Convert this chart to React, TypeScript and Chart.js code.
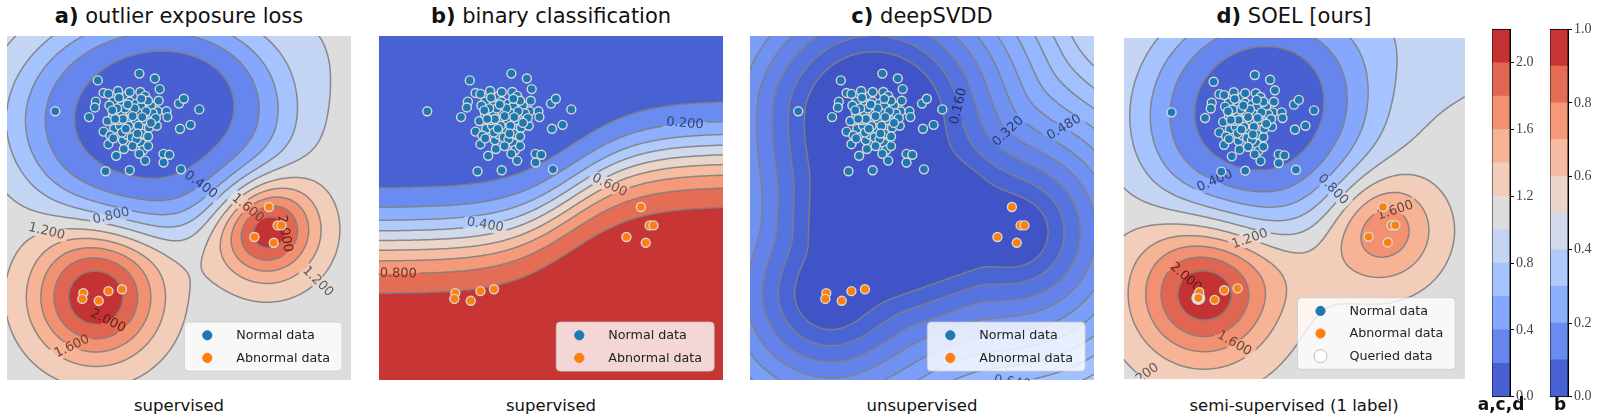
import React, { useEffect, useRef } from "react";
import { Chart, registerables } from "chart.js";
Chart.register(...registerables);

// ---------------- data (units = panel px / 10) ----------------
const normalX = [5.0, 9.4, 13.7, 15.3, 15.8, 10.0, 10.5, 11.5, 12.4, 13.8, 14.3, 9.2, 9.1, 8.5, 11.0, 11.9, 12.7, 13.4, 13.9, 14.9,
  15.7, 15.6, 16.5, 16.6, 17.8, 18.3, 19.9, 10.4, 11.0, 11.9, 12.8, 13.3, 14.2, 15.1, 14.7, 15.5, 10.0, 11.1, 11.7, 12.4,
  13.1, 13.9, 14.6, 17.9, 19.0, 10.5, 12.0, 12.4, 12.1, 13.9, 14.1, 11.3, 13.7, 14.3, 16.2, 16.8, 16.2, 10.2, 12.7, 18.0,
  11.6, 12.2, 12.9, 10.6, 11.4, 13.6, 11.6, 12.6, 13.6, 14.4, 10.7, 15.4, 13.2, 11.9, 14.6, 12.7, 10.9, 13.9, 14.9, 13.4,
  12.0, 13.0, 12.3, 13.5, 11.2, 14.0, 12.5, 11.0, 14.6, 13.0];
const normalY = [27.8, 31.0, 31.7, 31.2, 30.1, 29.7, 29.6, 29.9, 29.4, 29.8, 29.4, 28.8, 28.2, 27.2, 28.8, 28.4, 28.8, 28.6, 28.3, 28.4,
  28.9, 27.8, 27.8, 27.2, 28.6, 29.1, 28.0, 26.8, 27.4, 27.5, 27.7, 26.9, 26.9, 27.6, 26.1, 26.3, 25.7, 26.0, 26.3, 26.8,
  25.9, 25.5, 25.2, 26.0, 26.4, 24.4, 24.8, 25.4, 23.9, 24.5, 23.8, 23.2, 23.4, 22.7, 23.4, 23.3, 22.5, 21.6, 21.7, 21.8,
  29.2, 28.1, 25.1, 28.4, 28.1, 27.6, 26.9, 26.3, 26.3, 27.8, 25.3, 27.1, 28.1, 25.6, 28.9, 29.8, 27.9, 29.1, 26.6, 24.9,
  27.0, 27.3, 26.0, 25.5, 27.0, 27.2, 28.5, 25.0, 24.2, 24.2];
const abnormalX = [7.9, 7.8, 9.5, 10.5, 11.9, 27.1, 28.0, 28.4, 25.6, 27.6];
const abnormalY = [9.0, 8.4, 8.2, 9.2, 9.4, 17.9, 16.0, 16.0, 14.8, 14.2];
const queriedX = [7.8];
const queriedY = [8.4];

const panelLetters = ["a)", "b)", "c)", "d)"];
const panelNames = ["outlier exposure loss", "binary classification", "deepSVDD", "SOEL [ours]"];
const panelSubtitles = ["supervised", "supervised", "unsupervised", "semi-supervised (1 label)"];

// score-surface models (centres / spreads / amplitudes estimated from the contours)
const baseA = 1.08;
const bumpsA = [
  [14.8, 26.8, 14.1, 11.2, 4.0, -0.96],
  [24.0, 34.0, 12.0, 7.0, 2.0, -0.12],
  [9.2, 8.6, 6.6, 6.6, 2.2, 1.07],
  [26.9, 15.6, 5.1, 5.1, 2.0, 1.07],
];
const baseD = 1.1;
const bumpsD = [
  [13.6, 27.1, 12.1, 11.7, 3.0, -1.0],
  [26.0, 37.0, 16.0, 10.0, 2.0, -0.25],
  [8.4, 8.9, 7.1, 7.1, 2.0, 1.05],
  [27.1, 15.6, 5.5, 5.5, 2.0, 0.65],
  [18.5, 11.5, 7.0, 5.0, 2.0, 0.1],
];
// deepSVDD: discs around the three groups and the tapered links between them
const svddDiscs = [[12.8, 26.7, 6.5], [8.4, 9.0, 2.6], [27.3, 15.3, 2.4]];
const svddLinks = [[0, 1, 6.5, 2.6], [1, 2, 2.6, 2.3], [2, 0, 2.4, 2.6]];
const svddSmooth = 3.0;
const svddSlope = 0.048;
const bBoundary = [14.4, 9.0, 20, 7]; // base, rise, mid, width
const bGain = 0.403;

const labelsA = [[0.4, 19.1, 21.6], [0.8, 10.7, 16.6], [1.2, 4.4, 14.6], [1.6, 24.4, 18.4], [2.0, 28.9, 15.1], [1.2, 33.2, 9.1], [2.0, 10.2, 6.6], [1.6, 6.4, 2.8]];
const labelsB = [[0.2, 31.7, 25.9], [0.6, 24.0, 19.8], [0.4, 10.9, 16.6], [0.8, 2.0, 11.6]];
const labelsC = [[0.16, 22.6, 28.6], [0.32, 28.1, 27.1], [0.48, 32.6, 26.3], [0.64, 26.6, 3.9]];
const labelsD = [[0.4, 9.6, 20.8], [0.8, 21.2, 20.4], [1.6, 28.6, 18.3], [1.2, 13.2, 14.6], [2.0, 6.9, 10.1], [1.6, 11.7, 3.4], [1.2, 2.6, 1.0]];

const cbTicksACD = [0.0, 0.4, 0.8, 1.2, 1.6, 2.0];
const cbTicksB = [0.0, 0.2, 0.4, 0.6, 0.8, 1.0];

// ---------------- helpers ----------------
const COOLWARM = [[59,76,192],[68,90,204],[77,104,215],[87,117,225],[98,130,234],[108,142,241],[119,154,247],[130,165,251],[141,176,254],[152,185,255],[163,194,255],[174,201,253],[184,208,249],[194,213,244],[204,217,238],[213,219,230],[221,221,221],[229,216,209],[236,211,197],[241,204,185],[245,196,173],[247,187,160],[247,177,148],[247,166,135],[244,154,123],[241,141,111],[236,127,99],[229,112,88],[222,96,77],[213,80,66],[203,62,56],[192,40,47],[180,4,38]];
function coolwarm(t: number): number[] {
  t = Math.max(0, Math.min(1, t));
  const p = t * 32;
  const i = Math.floor(p);
  if (i >= 32) return COOLWARM[32];
  const f = p - i;
  const a = COOLWARM[i], b = COOLWARM[i + 1];
  return [a[0] + (b[0] - a[0]) * f, a[1] + (b[1] - a[1]) * f, a[2] + (b[2] - a[2]) * f];
}
const rgb = (c: number[], k = 1) => `rgb(${Math.round(c[0] * k)},${Math.round(c[1] * k)},${Math.round(c[2] * k)})`;

function bumpField(base: number, bumps: number[][]) {
  return (x: number, y: number) => {
    let v = base;
    for (const b of bumps) {
      const dx = (x - b[0]) / b[2], dy = (y - b[1]) / b[3];
      v += b[5] * Math.exp(-Math.pow(dx * dx + dy * dy, b[4] / 2));
    }
    return v;
  };
}
function smin(a: number, b: number, k: number) {
  const h = Math.max(k - Math.abs(a - b), 0) / k;
  return Math.min(a, b) - (h * h * k) / 4;
}
function svddDistance(x: number, y: number) {
  let D = 1e9;
  for (const c of svddDiscs) D = smin(D, Math.hypot(x - c[0], y - c[1]) - c[2], svddSmooth);
  for (const l of svddLinks) {
    const p = svddDiscs[l[0]], q = svddDiscs[l[1]];
    const ex = q[0] - p[0], ey = q[1] - p[1];
    let t = ((x - p[0]) * ex + (y - p[1]) * ey) / (ex * ex + ey * ey);
    t = Math.max(0, Math.min(1, t));
    const d = Math.hypot(x - p[0] - t * ex, y - p[1] - t * ey) - (l[2] + (l[3] - l[2]) * t);
    D = smin(D, d, svddSmooth);
  }
  // interior of the triangle spanned by the three groups
  let sgn = 0, inside = true;
  for (let i = 0; i < 3; i++) {
    const p = svddDiscs[i], q = svddDiscs[(i + 1) % 3];
    const s = Math.sign((q[0] - p[0]) * (y - p[1]) - (q[1] - p[1]) * (x - p[0]));
    if (sgn === 0) sgn = s;
    else if (s !== 0 && s !== sgn) inside = false;
  }
  if (inside) D = Math.min(D, -1);
  return D;
}
const fieldSvdd = (x: number, y: number) => Math.max(0, 0.08 + svddSlope * svddDistance(x, y));
const fieldBinary = (x: number, y: number) => {
  const y0 = bBoundary[0] + (bBoundary[1] / 2) * (1 + Math.tanh((x - bBoundary[2]) / bBoundary[3]));
  return 1 / (1 + Math.exp(-bGain * (y0 - y)));
};

interface Spec {
  field: (x: number, y: number) => number;
  step: number;
  nBands: number;
  norm: number;
  labels: number[][];
  queried: boolean;
}
const specs: Spec[] = [
  { field: bumpField(baseA, bumpsA), step: 0.2, nBands: 11, norm: 2.2, labels: labelsA, queried: false },
  { field: fieldBinary, step: 0.1, nBands: 10, norm: 1.0, labels: labelsB, queried: false },
  { field: fieldSvdd, step: 0.08, nBands: 11, norm: 2.2, labels: labelsC, queried: false },
  { field: bumpField(baseD, bumpsD), step: 0.2, nBands: 11, norm: 2.2, labels: labelsD, queried: true },
];

function snap(f: (x: number, y: number) => number, L: number, x0: number, y0: number) {
  let x = x0, y = y0;
  const h = 0.01;
  for (let it = 0; it < 40; it++) {
    const v = f(x, y) - L;
    if (Math.abs(v) < 1e-5) break;
    const gx = (f(x + h, y) - f(x - h, y)) / (2 * h);
    const gy = (f(x, y + h) - f(x, y - h)) / (2 * h);
    const g2 = gx * gx + gy * gy;
    if (g2 < 1e-12) break;
    let sx = (v * gx) / g2, sy = (v * gy) / g2;
    const m = Math.hypot(sx, sy);
    if (m > 0.5) { sx *= 0.5 / m; sy *= 0.5 / m; }
    x -= sx; y -= sy;
  }
  if (Math.hypot(x - x0, y - y0) > 4.5) return [x0, y0];
  return [x, y];
}

function makeContourPlugin(spec: Spec) {
  return {
    id: "contourField",
    beforeDatasetsDraw(chart: any) {
      const { ctx, chartArea: ca } = chart;
      const sx = chart.scales.x, sy = chart.scales.y;
      const W = Math.round(ca.right - ca.left), H = Math.round(ca.bottom - ca.top);
      const f = spec.field;
      const bandCols: number[][] = [];
      for (let b = 0; b < spec.nBands; b++) bandCols.push(coolwarm(((b + 0.5) * spec.step) / spec.norm));
      // filled bands
      const off = document.createElement("canvas");
      off.width = W; off.height = H;
      const octx = off.getContext("2d")!;
      const img = octx.createImageData(W, H);
      const xs: number[] = [], ys: number[] = [];
      for (let i = 0; i < W; i++) xs.push(sx.getValueForPixel(ca.left + i + 0.5));
      for (let j = 0; j < H; j++) ys.push(sy.getValueForPixel(ca.top + j + 0.5));
      for (let j = 0; j < H; j++) {
        for (let i = 0; i < W; i++) {
          const v = f(xs[i], ys[j]);
          let b = Math.floor(v / spec.step + 1e-9);
          if (b < 0) b = 0;
          if (b > spec.nBands - 1) b = spec.nBands - 1;
          const c = bandCols[b];
          const k = (j * W + i) * 4;
          img.data[k] = c[0]; img.data[k + 1] = c[1]; img.data[k + 2] = c[2]; img.data[k + 3] = 255;
        }
      }
      octx.putImageData(img, 0, 0);
      ctx.drawImage(off, ca.left, ca.top, W, H);

      // labels (positions snapped onto their level)
      ctx.font = '13px "DejaVu Sans"';
      const labs = spec.labels.map((l) => {
        const [x, y] = snap(f, l[0], l[1], l[2]);
        const h = 0.01;
        const gx = (f(x + h, y) - f(x - h, y)) / (2 * h);
        const gy = (f(x, y + h) - f(x, y - h)) / (2 * h);
        let ang = Math.atan2(gx, gy);
        if (ang > Math.PI / 2) ang -= Math.PI;
        if (ang < -Math.PI / 2) ang += Math.PI;
        const text = l[0].toFixed(3);
        const w = ctx.measureText(text).width;
        return { px: sx.getPixelForValue(x), py: sy.getPixelForValue(y), ang, text, w, level: l[0] };
      });

      // contour lines via marching squares
      const g = 2;
      const NX = Math.ceil(W / g), NY = Math.ceil(H / g);
      const gxp = (i: number) => ca.left + Math.min(i * g, W);
      const gyp = (j: number) => ca.top + Math.min(j * g, H);
      const vals = new Float64Array((NX + 1) * (NY + 1));
      for (let j = 0; j <= NY; j++)
        for (let i = 0; i <= NX; i++)
          vals[j * (NX + 1) + i] = f(sx.getValueForPixel(gxp(i)), sy.getValueForPixel(gyp(j)));
      ctx.save();
      ctx.beginPath();
      ctx.rect(ca.left, ca.top, W, H);
      for (const lb of labs) {
        ctx.save();
        ctx.translate(lb.px, lb.py);
        ctx.rotate(-lb.ang);
        ctx.rect(-lb.w / 2 - 3, -7, lb.w + 6, 14);
        ctx.restore();
      }
      ctx.clip("evenodd");
      ctx.beginPath();
      for (let k = 1; k < spec.nBands; k++) {
        const L = k * spec.step;
        for (let j = 0; j < NY; j++) {
          for (let i = 0; i < NX; i++) {
            const a = vals[j * (NX + 1) + i], b = vals[j * (NX + 1) + i + 1];
            const c = vals[(j + 1) * (NX + 1) + i + 1], d = vals[(j + 1) * (NX + 1) + i];
            const x0 = gxp(i), x1 = gxp(i + 1), y0 = gyp(j), y1 = gyp(j + 1);
            const pts: number[][] = [];
            if ((a - L) * (b - L) < 0) pts.push([x0 + ((L - a) / (b - a)) * (x1 - x0), y0]);
            if ((b - L) * (c - L) < 0) pts.push([x1, y0 + ((L - b) / (c - b)) * (y1 - y0)]);
            if ((d - L) * (c - L) < 0) pts.push([x0 + ((L - d) / (c - d)) * (x1 - x0), y1]);
            if ((a - L) * (d - L) < 0) pts.push([x0, y0 + ((L - a) / (d - a)) * (y1 - y0)]);
            if (pts.length === 2) {
              ctx.moveTo(pts[0][0], pts[0][1]); ctx.lineTo(pts[1][0], pts[1][1]);
            } else if (pts.length === 4) {
              const cen = (a + b + c + d) / 4;
              if ((cen - L) * (a - L) < 0) {
                ctx.moveTo(pts[0][0], pts[0][1]); ctx.lineTo(pts[3][0], pts[3][1]);
                ctx.moveTo(pts[1][0], pts[1][1]); ctx.lineTo(pts[2][0], pts[2][1]);
              } else {
                ctx.moveTo(pts[0][0], pts[0][1]); ctx.lineTo(pts[1][0], pts[1][1]);
                ctx.moveTo(pts[2][0], pts[2][1]); ctx.lineTo(pts[3][0], pts[3][1]);
              }
            }
          }
        }
      }
      ctx.strokeStyle = "rgba(128,128,128,0.9)";
      ctx.lineWidth = 1.5;
      ctx.lineCap = "round";
      ctx.stroke();
      ctx.restore();

      // label text
      ctx.save();
      ctx.beginPath();
      ctx.rect(ca.left, ca.top, W, H);
      ctx.clip();
      ctx.font = '13px "DejaVu Sans"';
      ctx.textAlign = "center";
      ctx.textBaseline = "middle";
      for (const lb of labs) {
        ctx.save();
        ctx.translate(lb.px, lb.py);
        ctx.rotate(-lb.ang);
        ctx.fillStyle = rgb(coolwarm(lb.level / spec.norm), 0.42);
        ctx.fillText(lb.text, 0, 0);
        ctx.restore();
      }
      ctx.restore();
    },
  };
}

const NORMAL_COLOR = "#1f78b4";
const ABNORMAL_COLOR = "#ff7f0e";
const EDGE_COLOR = "#d8d8d4";

function makeLegendPlugin(withQueried: boolean) {
  return {
    id: "boxLegend",
    afterDatasetsDraw(chart: any) {
      const { ctx, chartArea: ca } = chart;
      const items = [
        { label: "Normal data", fill: NORMAL_COLOR, stroke: NORMAL_COLOR, r: 4.6 },
        { label: "Abnormal data", fill: ABNORMAL_COLOR, stroke: ABNORMAL_COLOR, r: 4.6 },
      ];
      if (withQueried) items.push({ label: "Queried data", fill: "#ffffff", stroke: "#bbbbbb", r: 6.5 });
      ctx.save();
      ctx.font = '12.7px "DejaVu Sans"';
      let tw = 0;
      for (const it of items) tw = Math.max(tw, ctx.measureText(it.label).width);
      const rowH = 22.6;
      const w = 52 + tw + 12;
      const h = 26.4 + rowH * (items.length - 1);
      const right = ca.right - 9, bottom = ca.bottom - 9;
      const left = right - w, top = bottom - h;
      ctx.beginPath();
      ctx.roundRect(left, top, w, h, 4);
      ctx.fillStyle = "rgba(255,255,255,0.8)";
      ctx.fill();
      ctx.strokeStyle = "rgba(204,204,204,0.8)";
      ctx.lineWidth = 1;
      ctx.stroke();
      items.forEach((it, i) => {
        const cy = top + 13.2 + i * rowH;
        ctx.beginPath();
        ctx.arc(left + 23, cy, it.r, 0, Math.PI * 2);
        ctx.fillStyle = it.fill;
        ctx.fill();
        ctx.lineWidth = 1;
        ctx.strokeStyle = it.stroke;
        ctx.stroke();
        ctx.fillStyle = "#222";
        ctx.textAlign = "left";
        ctx.textBaseline = "middle";
        ctx.fillText(it.label, left + 52, cy + 0.5);
      });
      ctx.restore();
    },
  };
}

const PANEL_W = 356;
const PANEL_H = 356;
const PANEL_TOP = 30;
const panelLefts = [1, 373, 744, 1116];

function Panel({ index }: { index: number }) {
  const ref = useRef<HTMLCanvasElement>(null);
  useEffect(() => {
    const spec = specs[index];
    const datasets: any[] = [
      {
        label: "Normal data",
        data: normalX.map((x, i) => ({ x, y: normalY[i] })),
        backgroundColor: NORMAL_COLOR,
        borderColor: EDGE_COLOR,
        borderWidth: 1.4,
        pointRadius: 4.5,
      },
      {
        label: "Abnormal data",
        data: abnormalX.map((x, i) => ({ x, y: abnormalY[i] })),
        backgroundColor: ABNORMAL_COLOR,
        borderColor: EDGE_COLOR,
        borderWidth: 1.4,
        pointRadius: 4.5,
      },
    ];
    if (spec.queried) {
      datasets.push({
        label: "Queried data",
        data: queriedX.map((x, i) => ({ x, y: queriedY[i] })),
        backgroundColor: "#ffffff",
        borderColor: "#c8c8c8",
        borderWidth: 1.2,
        pointRadius: 6.5,
      });
    }
    const chart = new Chart(ref.current!, {
      type: "scatter",
      data: { datasets },
      options: {
        responsive: false,
        animation: false,
        events: [],
        layout: { padding: 0 },
        scales: {
          x: { type: "linear", min: 0, max: 35.6, display: false },
          y: { type: "linear", min: 0, max: 35.6, display: false },
        },
        plugins: { legend: { display: false }, tooltip: { enabled: false } },
      },
      plugins: [makeContourPlugin(spec), makeLegendPlugin(spec.queried)],
    });
    return () => chart.destroy();
  }, [index]);
  return (
    <canvas
      ref={ref}
      width={PANEL_W}
      height={PANEL_H}
      style={{ position: "absolute", left: panelLefts[index], top: PANEL_TOP, width: PANEL_W, height: PANEL_H }}
    />
  );
}

const outlinePlugin = {
  id: "cbOutline",
  afterDraw(chart: any) {
    const { ctx, chartArea: ca } = chart;
    ctx.save();
    ctx.strokeStyle = "#000";
    ctx.lineWidth = 0.9;
    ctx.strokeRect(ca.left, ca.top, ca.right - ca.left, ca.bottom - ca.top);
    ctx.restore();
  },
};

function Colorbar({ left, nBands, step, ticks }: { left: number; nBands: number; step: number; ticks: number[] }) {
  const ref = useRef<HTMLCanvasElement>(null);
  useEffect(() => {
    const datasets = [];
    for (let b = 0; b < nBands; b++) {
      datasets.push({
        data: [step],
        backgroundColor: rgb(coolwarm((b + 0.5) / nBands)),
        borderWidth: 0,
        barPercentage: 1,
        categoryPercentage: 1,
      });
    }
    const chart = new Chart(ref.current!, {
      type: "bar",
      data: { labels: [""], datasets },
      options: {
        responsive: false,
        animation: false,
        events: [],
        layout: { padding: { top: 0, bottom: 0, left: 0, right: 0 } },
        scales: {
          x: { stacked: true, display: false },
          y: {
            stacked: true,
            min: 0,
            max: step * nBands,
            position: "right",
            afterBuildTicks: (s: any) => {
              s.ticks = ticks.map((v) => ({ value: v }));
            },
            afterFit: (s: any) => {
              s.width = 34;
            },
            ticks: {
              callback: (v: any) => Number(v).toFixed(1),
              font: { family: "Liberation Serif", size: 14 },
              color: "#444",
              padding: 2,
            },
            grid: { drawOnChartArea: false, drawTicks: true, tickLength: 4, color: "#000" },
            border: { display: true, color: "#000" },
          },
        },
        plugins: { legend: { display: false }, tooltip: { enabled: false } },
      },
      plugins: [outlinePlugin],
    });
    return () => chart.destroy();
  }, []);
  return (
    <canvas
      ref={ref}
      width={52}
      height={388}
      style={{ position: "absolute", left, top: 19, width: 52, height: 388 }}
    />
  );
}

export default function App() {
  return (
    <div style={{ position: "absolute", left: 0, top: 0, width: 1609, height: 419, background: "#fff", overflow: "hidden" }}>
      {panelLefts.map((l, i) => (
        <React.Fragment key={i}>
          <div
            style={{
              position: "absolute", left: l, top: 4, width: PANEL_W, textAlign: "center",
              fontFamily: '"DejaVu Sans"', fontSize: 21, lineHeight: "24px", color: "#111", whiteSpace: "nowrap",
            }}
          >
            <b>{panelLetters[i]}</b> {panelNames[i]}
          </div>
          <Panel index={i} />
          <div
            style={{
              position: "absolute", left: l, top: 396, width: PANEL_W, textAlign: "center",
              fontFamily: '"DejaVu Sans"', fontSize: 16.5, lineHeight: "20px", color: "#111", whiteSpace: "nowrap",
            }}
          >
            {panelSubtitles[i]}
          </div>
        </React.Fragment>
      ))}
      <Colorbar left={1492} nBands={11} step={0.2} ticks={cbTicksACD} />
      <Colorbar left={1550} nBands={10} step={0.1} ticks={cbTicksB} />
      <div style={{ position: "absolute", left: 1471, top: 393, width: 60, textAlign: "center", fontFamily: '"DejaVu Sans"', fontWeight: "bold", fontSize: 17, lineHeight: "22px", color: "#111" }}>
        a,c,d
      </div>
      <div style={{ position: "absolute", left: 1530, top: 393, width: 60, textAlign: "center", fontFamily: '"DejaVu Sans"', fontWeight: "bold", fontSize: 17, lineHeight: "22px", color: "#111" }}>
        b
      </div>
    </div>
  );
}
